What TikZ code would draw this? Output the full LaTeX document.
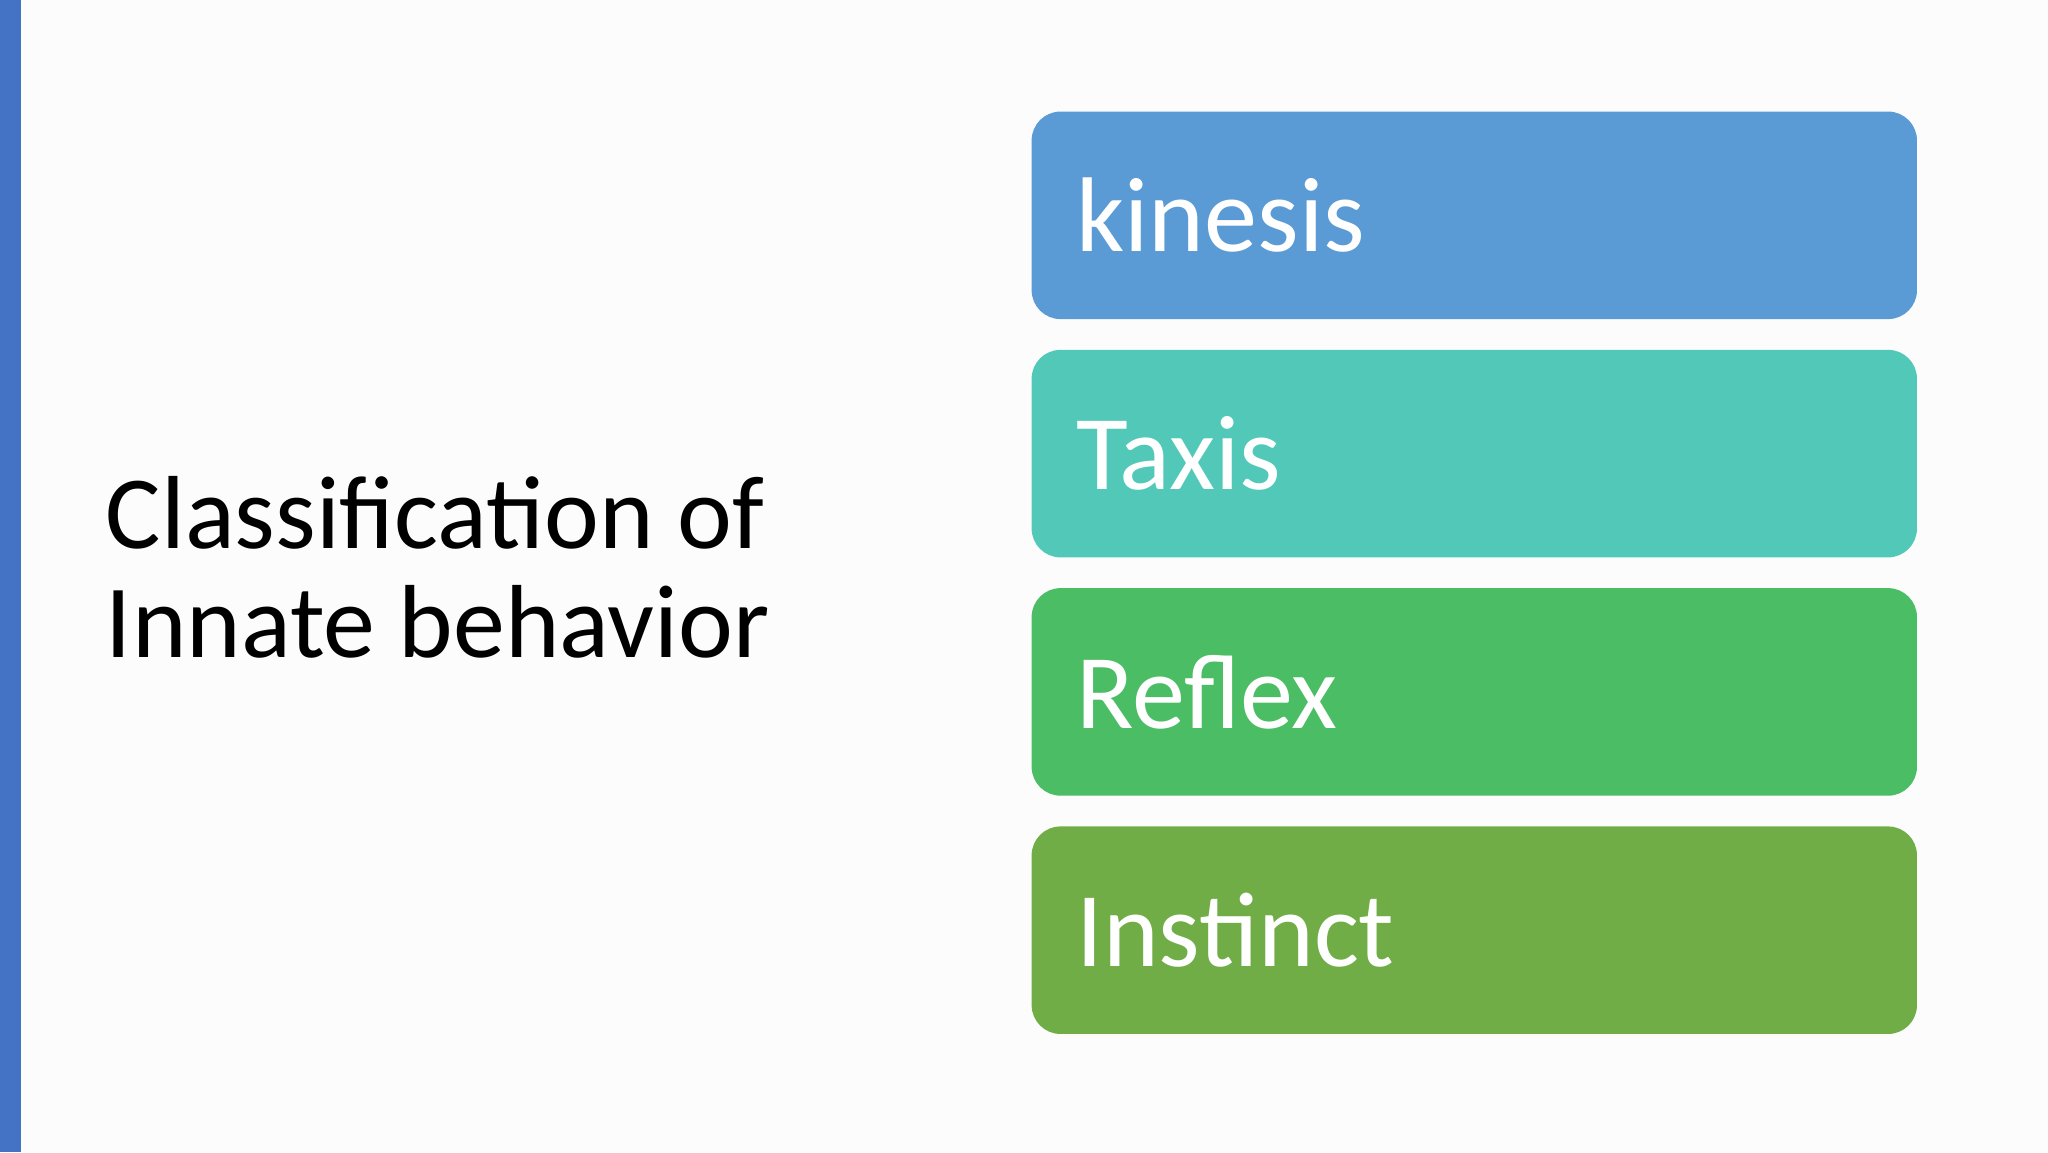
\documentclass[tikz,border=0pt]{standalone}
\usepackage{fontspec}
\setmainfont{Carlito}
\usetikzlibrary{positioning}
\definecolor{barblue}{HTML}{4472C4}
\definecolor{kblue}{HTML}{5B9BD5}
\definecolor{tteal}{HTML}{52C9B8}
\definecolor{rgreen}{HTML}{4BBD65}
\definecolor{igreen}{HTML}{70AD47}
\tikzset{
  item/.style={rectangle, rounded corners=0.22cm, minimum width=6.74cm,
    minimum height=1.58cm, text width=6.06cm, inner xsep=0.34cm, align=left,
    text=white, font=\fontsize{23}{28}\selectfont}
}

\begin{document}
\begin{tikzpicture}[x=0.01cm, y=-0.01cm]
  \fill[white!98!gray] (0,0) rectangle (1560,877.5);
  \fill[barblue] (0,0) rectangle (16,877.5);

  \node[anchor=west, align=left, font=\fontsize{22.5}{23.5}\selectfont, inner sep=0pt]
    (title) at (80,432) {Classification of\\Innate behavior};

  \node[item, fill=kblue] (kinesis) at (1123,164) {kinesis};
  \node[item, fill=tteal, below=0.22cm of kinesis] (taxis) {Taxis};
  \node[item, fill=rgreen, below=0.22cm of taxis] (reflex) {Reflex};
  \node[item, fill=igreen, below=0.22cm of reflex] (instinct) {Instinct};
\end{tikzpicture}
\end{document}
